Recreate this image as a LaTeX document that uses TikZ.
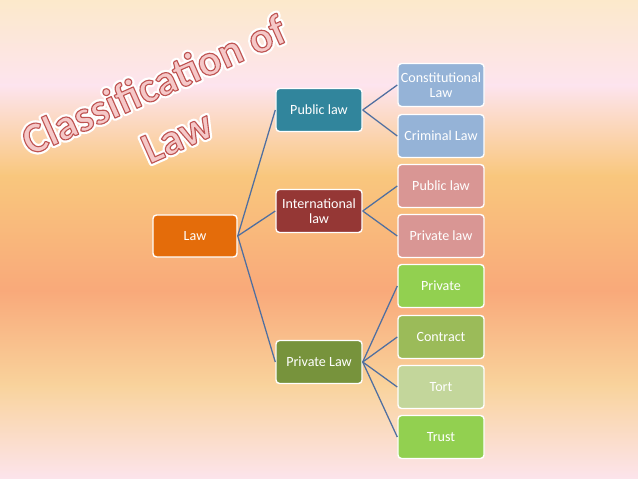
\documentclass[tikz,border=0pt]{standalone}
\usepackage{fontspec}
\setmainfont{Carlito}
\usetikzlibrary{backgrounds}

\definecolor{bgpeach}{HTML}{FCE9CB}
\definecolor{bgpink}{HTML}{FDE4EE}
\definecolor{bgyellow}{HTML}{F9C77D}
\definecolor{bgsalmon}{HTML}{F9A97A}
\definecolor{bgsand}{HTML}{F9D39C}
\definecolor{bgrose}{HTML}{FCE4EC}
\definecolor{lawc}{HTML}{E46C0A}
\definecolor{publicc}{HTML}{31859C}
\definecolor{interc}{HTML}{953735}
\definecolor{privatec}{HTML}{77933C}
\definecolor{bluec}{HTML}{95B3D7}
\definecolor{pinkc}{HTML}{D99694}
\definecolor{greenc}{HTML}{92D050}
\definecolor{olivec}{HTML}{9BBB59}
\definecolor{palec}{HTML}{C3D69B}
\definecolor{linkc}{HTML}{4F6FA0}
\definecolor{titlefill}{HTML}{F5C8C8}

\newcommand\outlined[1]{\special{pdf:literal direct 2 Tr 1 j 0.8 w 0.75 0.33 0.32 RG}#1\special{pdf:literal direct 0 Tr}}
\newcommand\glowed[1]{\special{pdf:literal direct 2 Tr 1 j 4 w 1 1 1 RG}#1\special{pdf:literal direct 0 Tr}}

\tikzset{
	box/.style={draw=white, line width=1pt, rounded corners=2.5pt, text=white, minimum width=2.15cm, minimum height=1.075cm, align=center, inner sep=1pt, font=\fontsize{10}{11}\selectfont},
	link/.style={draw=linkc, line width=0.9pt},
	titletext/.style={align=center, rotate=24, font=\fontsize{31}{40}\selectfont\bfseries}
}

\begin{document}
\begin{tikzpicture}[x=0.025cm, y=-0.025cm]
	\useasboundingbox (0,0) rectangle (638,479);
	\shade[top color=bgpeach, bottom color=bgpink] (0,0) rectangle (638,86);
	\shade[top color=bgpink, bottom color=bgyellow] (0,85) rectangle (638,176);
	\shade[top color=bgyellow, bottom color=bgsalmon] (0,175) rectangle (638,291);
	\shade[top color=bgsalmon, bottom color=bgsand] (0,290) rectangle (638,386);
	\shade[top color=bgsand, bottom color=bgrose] (0,385) rectangle (638,479);

	\node[titletext, text=white] (glow) at (165,110) {\glowed{Classification of}\\\glowed{Law}};
	\node[titletext, text=titlefill] (title) at (165,110) {\outlined{Classification of}\\\outlined{Law}};

	\node[box, fill=lawc, minimum width=2.1cm, minimum height=1.05cm] (law) at (195,236) {Law};

	\node[box, fill=publicc] (public) at (319,110) {Public law};
	\node[box, fill=interc] (inter) at (319,211) {International\\law};
	\node[box, fill=privatec] (private) at (319,362) {Private Law};

	\node[box, fill=bluec] (const) at (441,85) {Constitutional\\Law};
	\node[box, fill=bluec] (crim) at (441,136) {Criminal Law};
	\node[box, fill=pinkc] (pubint) at (441,186) {Public law};
	\node[box, fill=pinkc] (privint) at (441,236) {Private law};
	\node[box, fill=greenc] (priv) at (441,286) {Private};
	\node[box, fill=olivec] (contract) at (441,337) {Contract};
	\node[box, fill=palec] (tort) at (441,387) {Tort};
	\node[box, fill=greenc] (trust) at (441,437) {Trust};

	\draw[link] (law.east) -- (public.west);
	\draw[link] (law.east) -- (inter.west);
	\draw[link] (law.east) -- (private.west);
	\draw[link] (public.east) -- (const.west);
	\draw[link] (public.east) -- (crim.west);
	\draw[link] (inter.east) -- (pubint.west);
	\draw[link] (inter.east) -- (privint.west);
	\foreach \leaf in {priv, contract, tort, trust}
		\draw[link] (private.east) -- (\leaf.west);
\end{tikzpicture}
\end{document}
